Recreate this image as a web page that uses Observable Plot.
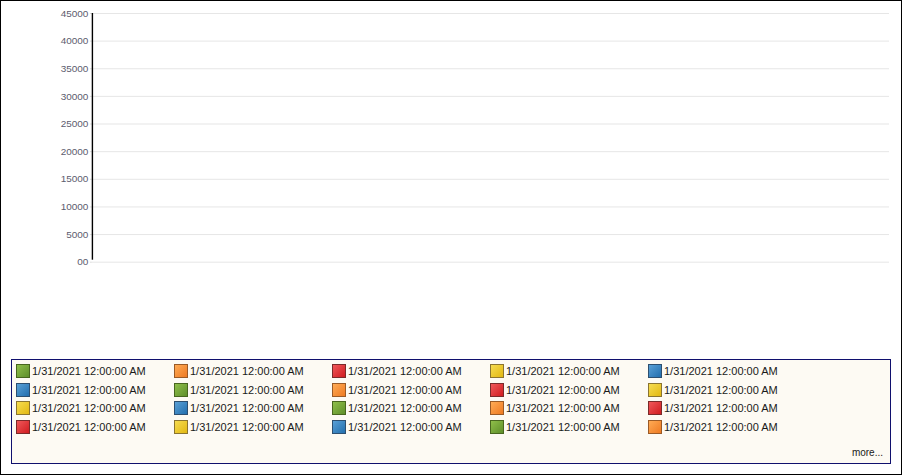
<!DOCTYPE html>
<html>
<head>
<meta charset="utf-8">
<script src="https://cdn.jsdelivr.net/npm/d3@7"></script>
<script src="https://cdn.jsdelivr.net/npm/@observablehq/plot@0.6"></script>
<style>
  html, body { margin: 0; padding: 0; background: #fff; }
  #wrap { position: relative; width: 902px; height: 475px; box-sizing: border-box; border: 1px solid #000; overflow: hidden; font-family: "Liberation Sans", Arial, sans-serif; }
  #chart { position: absolute; left: -1px; top: -1px; }
  #legend { position: absolute; left: 10px; top: 358px; width: 880px; height: 105px; box-sizing: border-box; border: 1px solid #10106e; background: #fdfaf3; }
  .item { position: absolute; height: 14px; display: flex; align-items: center; font-size: 11px; color: #1a1a1a; white-space: nowrap; }
  .sw { width: 12px; height: 12px; border: 1px solid #555; margin-right: 2px; box-sizing: content-box; }
  #more { position: absolute; right: 7px; bottom: 5px; font-size: 10px; color: #1a1a1a; }
</style>
</head>
<body>
<div id="wrap">
  <div id="chart"></div>
  <div id="legend"></div>
</div>
<script>
// Y axis ticks and labels
const yTicks = [0, 5000, 10000, 15000, 20000, 25000, 30000, 35000, 40000, 45000];
const yTickLabels = ["00", "5000", "10000", "15000", "20000", "25000", "30000", "35000", "40000", "45000"];
const yDomain = [0, 45000];

// Legend entries (row-major, 4 rows x 5 columns)
const legendLabels = Array(20).fill("1/31/2021 12:00:00 AM");
const legendColorNames = [
  "green", "orange", "red", "yellow", "blue",
  "blue", "green", "orange", "red", "yellow",
  "yellow", "blue", "green", "orange", "red",
  "red", "yellow", "blue", "green", "orange"
];
const palette = {
  green:  ["#8fbf4a", "#5f8f2a", "#48661f"],
  orange: ["#ffab55", "#ee7a22", "#9a5a26"],
  red:    ["#f0585a", "#d01c20", "#7a2a2a"],
  yellow: ["#f6dc50", "#e2b812", "#8a7430"],
  blue:   ["#5aa0d6", "#236fae", "#2d4f70"]
};

const labelMap = new Map(yTicks.map((t, i) => [t, yTickLabels[i]]));

const chart = Plot.plot({
  width: 902,
  height: 275,
  marginLeft: 92,
  marginRight: 12,
  marginTop: 13,
  marginBottom: 13,
  style: { fontFamily: "'Liberation Sans', Arial, sans-serif", fontSize: "10px", background: "transparent" },
  x: { axis: null, domain: [0, 1] },
  y: { domain: yDomain, ticks: yTicks, axis: null },
  marks: [
    Plot.gridY(yTicks, { stroke: "#e6e6e6", strokeOpacity: 1, strokeWidth: 1 }),
    Plot.axisY(yTicks, {
      tickSize: 2,
      tickPadding: 2,
      stroke: "#dcdcdc",
      fill: "#5c5c6e",
      tickFormat: d => labelMap.get(d),
      label: null
    }),
    Plot.ruleX([0], { y1: 0, y2: 45000, stroke: "#000", strokeWidth: 1.4, insetTop: -2 })
  ]
});
document.getElementById("chart").appendChild(chart);

// Legend
const legend = document.getElementById("legend");
const colX = [4, 162, 320, 478, 636];
const rowY = [4, 23, 41, 60];
legendLabels.forEach((lab, i) => {
  const r = Math.floor(i / 5), c = i % 5;
  const p = palette[legendColorNames[i]];
  const it = document.createElement("div");
  it.className = "item";
  it.style.left = colX[c] + "px";
  it.style.top = rowY[r] + "px";
  const sw = document.createElement("div");
  sw.className = "sw";
  sw.style.background = `linear-gradient(135deg, ${p[0]} 0%, ${p[1]} 100%)`;
  sw.style.borderColor = p[2];
  it.appendChild(sw);
  const t = document.createElement("span");
  t.textContent = lab;
  it.appendChild(t);
  legend.appendChild(it);
});
const more = document.createElement("div");
more.id = "more";
more.textContent = "more...";
legend.appendChild(more);
</script>
</body>
</html>
